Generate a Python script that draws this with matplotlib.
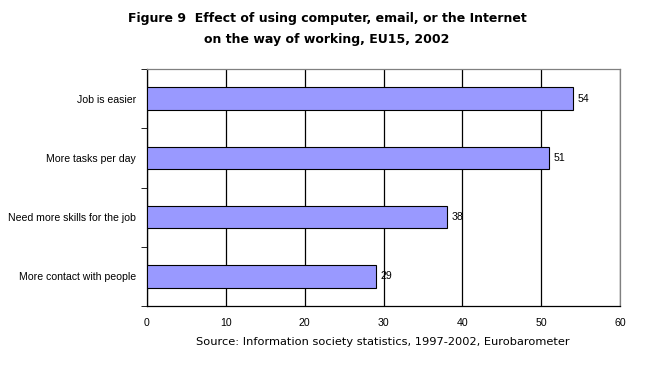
import matplotlib.pyplot as plt

categories = ['Job is easier', 'More tasks per day', 'Need more skills for the job', 'More contact with people']
values = [54, 51, 38, 29]
xticks = [0, 10, 20, 30, 40, 50, 60]

fig = plt.figure(figsize=(6.48, 3.66), dpi=100)
ax = fig.add_axes([147/648, 1 - 306/366, (620 - 147)/648, (306 - 69)/366])

ypos = list(range(len(categories)))[::-1]
ax.barh(ypos, values, height=0.38, color='#9999FF', edgecolor='black', linewidth=0.8, zorder=3)
for y, v in zip(ypos, values):
    ax.text(v + 0.6, y, str(v), va='center', ha='left', fontsize=7.6, family='Liberation Sans', zorder=4)

ax.set_xlim(0, 60)
ax.set_ylim(-0.5, 3.5)
ax.set_xticks(xticks)
ax.set_xticklabels([str(t) for t in xticks], family='Liberation Sans', fontsize=7.6)
ax.set_yticks(ypos)
ax.set_yticklabels(categories, family='Liberation Sans', fontsize=7.6)
ax.set_yticks([-0.5, 0.5, 1.5, 2.5, 3.5], minor=True)
ax.tick_params(axis='y', which='major', length=0, pad=8)
ax.tick_params(axis='y', which='minor', length=4, direction='out', color='black')
ax.tick_params(axis='x', length=0, pad=9)

ax.grid(axis='x', color='black', linewidth=0.9, zorder=0)
ax.set_axisbelow(True)
for s in ['left', 'bottom']:
    ax.spines[s].set_color('black')
    ax.spines[s].set_linewidth(0.9)
for s in ['top', 'right']:
    ax.spines[s].set_color('#808080')
    ax.spines[s].set_linewidth(0.9)

fig.text(327/648, 1 - 29/366, 'Figure 9  Effect of using computer, email, or the Internet\non the way of working, EU15, 2002',
         ha='center', va='center', fontsize=9, fontweight='bold', linespacing=1.75)
fig.text(383/648, 1 - 342/366, 'Source: Information society statistics, 1997-2002, Eurobarometer',
         ha='center', va='center', fontsize=8.2)

fig.savefig('out.png', dpi=100)
